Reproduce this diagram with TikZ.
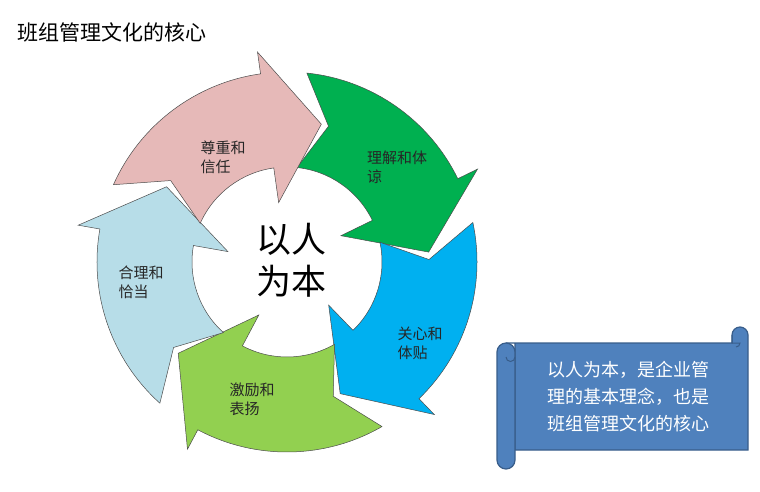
\documentclass[tikz,border=0pt]{standalone}
\usepackage{fontspec}
\setmainfont{Noto Sans CJK SC}
\usetikzlibrary{calc}
\definecolor{APink}{HTML}{E6B9B8}
\definecolor{AGreen}{HTML}{00B050}
\definecolor{ABlue}{HTML}{00B0F0}
\definecolor{ALime}{HTML}{92D050}
\definecolor{ASky}{HTML}{B7DDE8}
\definecolor{AScroll}{HTML}{4F81BD}
\definecolor{AScrollDark}{HTML}{385D8A}
\tikzset{
    cycarrow/.style = {draw=black!70, line width=0.5pt},
    label/.style = {align=left, font=\fontsize{15}{19}\selectfont, text=black!85},
    scroll/.style = {fill=AScroll, draw=AScrollDark, line width=1.2pt}
}
% curved arrow: tail angle, fill colour
\newcommand{\cycleArrow}[2]{%
    \filldraw[cycarrow, fill=#2] ($(c)+(#1-3:190)$) arc[start angle=#1-3, end angle=#1-61, radius=190]
        -- ($(c)+(#1-61:212)$) -- ($(c)+(#1-83:142)$) -- ($(c)+(#1-61:60)$)
        -- ($(c)+(#1-61:95)$) arc[start angle=#1-61, end angle=#1-3, radius=95]
        -- ($(c)+(#1-14:142)$) -- cycle;
}
\begin{document}
\begin{tikzpicture}[x=1pt, y=1pt]
    \useasboundingbox (0,0) rectangle (760,-491);
    \coordinate (c) at (287,-262);
    % the five arrows
    \cycleArrow{87}{AGreen}
    \cycleArrow{15}{ABlue}
    \cycleArrow{-57}{ALime}
    \cycleArrow{-129}{ASky}
    \cycleArrow{159}{APink}
    \node[anchor=west, font=\fontsize{21}{24}\selectfont] (title) at (14,-32) {班组管理文化的核心};
    \node[label] (respect) at (223,-157) {尊重和\\信任};
    \node[label] (understand) at (397,-167) {理解和体\\谅};
    \node[label] (care) at (420,-343) {关心和\\体贴};
    \node[label] (praise) at (252,-399) {激励和\\表扬};
    \node[label] (fair) at (141,-282) {合理和\\恰当};
    \node[align=center, font=\fontsize{35}{42}\selectfont] (core) at (291,-260) {以人\\为本};
    % scroll
    \draw[scroll] (506,-343) -- (732,-343) -- (732,-335)
        arc[start angle=180, end angle=0, radius=8] -- (748,-450)
        -- (515,-450) -- (515,-343) -- cycle;
    \draw[scroll] (515,-349) -- (515,-460) arc[start angle=0, end angle=-180, radius=9]
        -- (497,-352) arc[start angle=180, end angle=0, radius=9] -- cycle;
    \draw[AScrollDark, line width=1pt] (506,-357) arc[start angle=180, end angle=360, radius=4.5];
    \draw[AScrollDark, line width=1pt] (732,-335) -- (732,-343) -- (740,-343) arc[start angle=0, end angle=-90, radius=4];
    \node[align=left, text=white, font=\fontsize{18}{27}\selectfont] (motto) at (628,-397)
        {以人为本，是企业管\\理的基本理念，也是\\班组管理文化的核心};
\end{tikzpicture}
\end{document}
